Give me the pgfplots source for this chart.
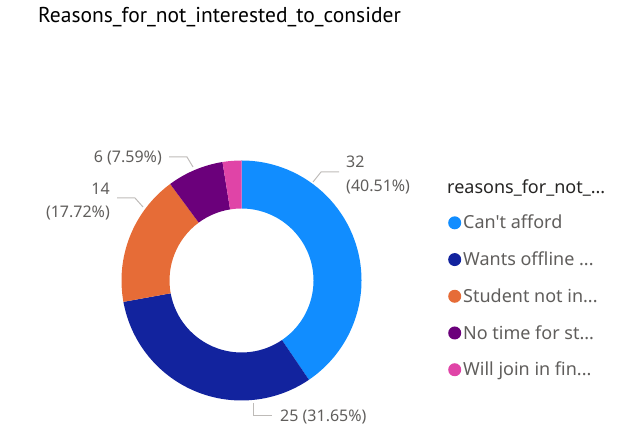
\documentclass[border=0pt]{standalone}
\usepackage{fontspec}
\setmainfont{Noto Sans}[Ligatures=TeXOff]
\newfontfamily\titlefont{PT Sans}
\usepackage{pgfplots}
\usepackage{pgfplotstable}
\pgfplotsset{compat=1.18}

\definecolor{cafford}{HTML}{118DFF}
\definecolor{coffline}{HTML}{12239E}
\definecolor{cstudent}{HTML}{E66C37}
\definecolor{ctime}{HTML}{6B007B}
\definecolor{cjoin}{HTML}{E044A7}
\definecolor{lbl}{HTML}{605E5C}
\definecolor{leader}{HTML}{BEBBB8}
\definecolor{ttl}{HTML}{252423}

\pgfplotstableread[col sep=comma]{
idx,value,color
0,32,cafford
1,25,coffline
2,14,cstudent
3,6,ctime
4,2,cjoin
}\reasons

\pgfplotsset{dotlegend/.style={legend image code/.code={\fill[##1] (6.5bp,0bp) circle (6.5bp);}}}

\newcommand\cx{241.5}
\newcommand\cy{165.5}
\newcommand\Ro{120}
\newcommand\Ri{72}

\begin{document}
\begin{tikzpicture}
% total and slice angles (clockwise from 12 o'clock)
\gdef\tot{0}
\foreach \i in {0,...,4}{%
  \pgfplotstablegetelem{\i}{value}\of\reasons
  \pgfmathsetmacro\tmpsum{\tot+\pgfplotsretval}\global\let\tot\tmpsum}
\gdef\cum{0}
\foreach \i in {0,...,4}{%
  \pgfplotstablegetelem{\i}{value}\of\reasons
  \pgfmathsetmacro\sang{90-(\cum/\tot)*360}
  \pgfmathsetmacro\newcum{\cum+\pgfplotsretval}
  \pgfmathsetmacro\eang{90-(\newcum/\tot)*360}
  \expandafter\xdef\csname sa\i\endcsname{\sang}
  \expandafter\xdef\csname ea\i\endcsname{\eang}
  \pgfplotstablegetelem{\i}{color}\of\reasons
  \expandafter\xdef\csname col\i\endcsname{\pgfplotsretval}
  \global\let\cum\newcum}
\begin{axis}[
    hide axis,
    x=1bp, y=1bp,
    xmin=0, xmax=631, ymin=0, ymax=446,
    clip=false,
    legend style={at={(axis cs:448,233)}, anchor=north west, draw=none, fill=none,
      inner sep=0pt, row sep=17.5bp, text=lbl,
      font=\fontsize{18bp}{21bp}\selectfont,
      cells={anchor=west}},
]
\path (axis cs:0,0) rectangle (axis cs:631,446);

\pgfplotsinvokeforeach{0,...,4}{%
  \edef\tmp{\noexpand\fill[\csname col#1\endcsname]
    (axis cs:\cx,\cy) ++(\csname sa#1\endcsname:\Ro bp)
    arc[start angle=\csname sa#1\endcsname, end angle=\csname ea#1\endcsname, radius=\Ro bp]
    -- ++(\csname ea#1\endcsname+180:\Ro bp-\Ri bp)
    arc[start angle=\csname ea#1\endcsname, end angle=\csname sa#1\endcsname, radius=\Ri bp]
    -- cycle;}\tmp
}

\addlegendimage{dotlegend, fill=cafford, draw=none}
\addlegendentry{Can't afford}
\addlegendimage{dotlegend, fill=coffline, draw=none}
\addlegendentry{Wants offline ...}
\addlegendimage{dotlegend, fill=cstudent, draw=none}
\addlegendentry{Student not in...}
\addlegendimage{dotlegend, fill=ctime, draw=none}
\addlegendentry{No time for st...}
\addlegendimage{dotlegend, fill=cjoin, draw=none}
\addlegendentry{Will join in fin...}

% title
\node[anchor=base west, text=black, inner sep=0pt, font=\titlefont\fontsize{21.5bp}{25bp}\selectfont]
  at (axis cs:38,423) {Reasons\_for\_not\_interested\_to\_consider};
\node[anchor=base west, text=ttl, inner sep=0pt, font=\bfseries\fontsize{18bp}{21bp}\selectfont]
  at (axis cs:447,252) {reasons\_for\_not\_...};

% data labels
\begin{scope}[every node/.style={inner sep=0pt, text=lbl, font=\fontsize{16bp}{19bp}\selectfont}]
\node[anchor=base west] at (axis cs:346,278) {32};
\node[anchor=base west] at (axis cs:346,254) {(40.51\%)};
\node[anchor=base east] at (axis cs:162,283) {6 (7.59\%)};
\node[anchor=base east] at (axis cs:110,251) {14};
\node[anchor=base east] at (axis cs:110,228) {(17.72\%)};
\node[anchor=base west] at (axis cs:280,24) {25 (31.65\%)};
\end{scope}
\begin{scope}[leader, line width=1bp]
\draw (axis cs:313,264) -- (axis cs:321,274) -- (axis cs:339,274);
\draw (axis cs:169,289) -- (axis cs:187,289) -- (axis cs:193,279);
\draw (axis cs:117,248) -- (axis cs:135,248) -- (axis cs:143,239);
\draw (axis cs:253,43) -- (axis cs:253,30) -- (axis cs:272,30);
\end{scope}
\end{axis}
\end{tikzpicture}
\end{document}
